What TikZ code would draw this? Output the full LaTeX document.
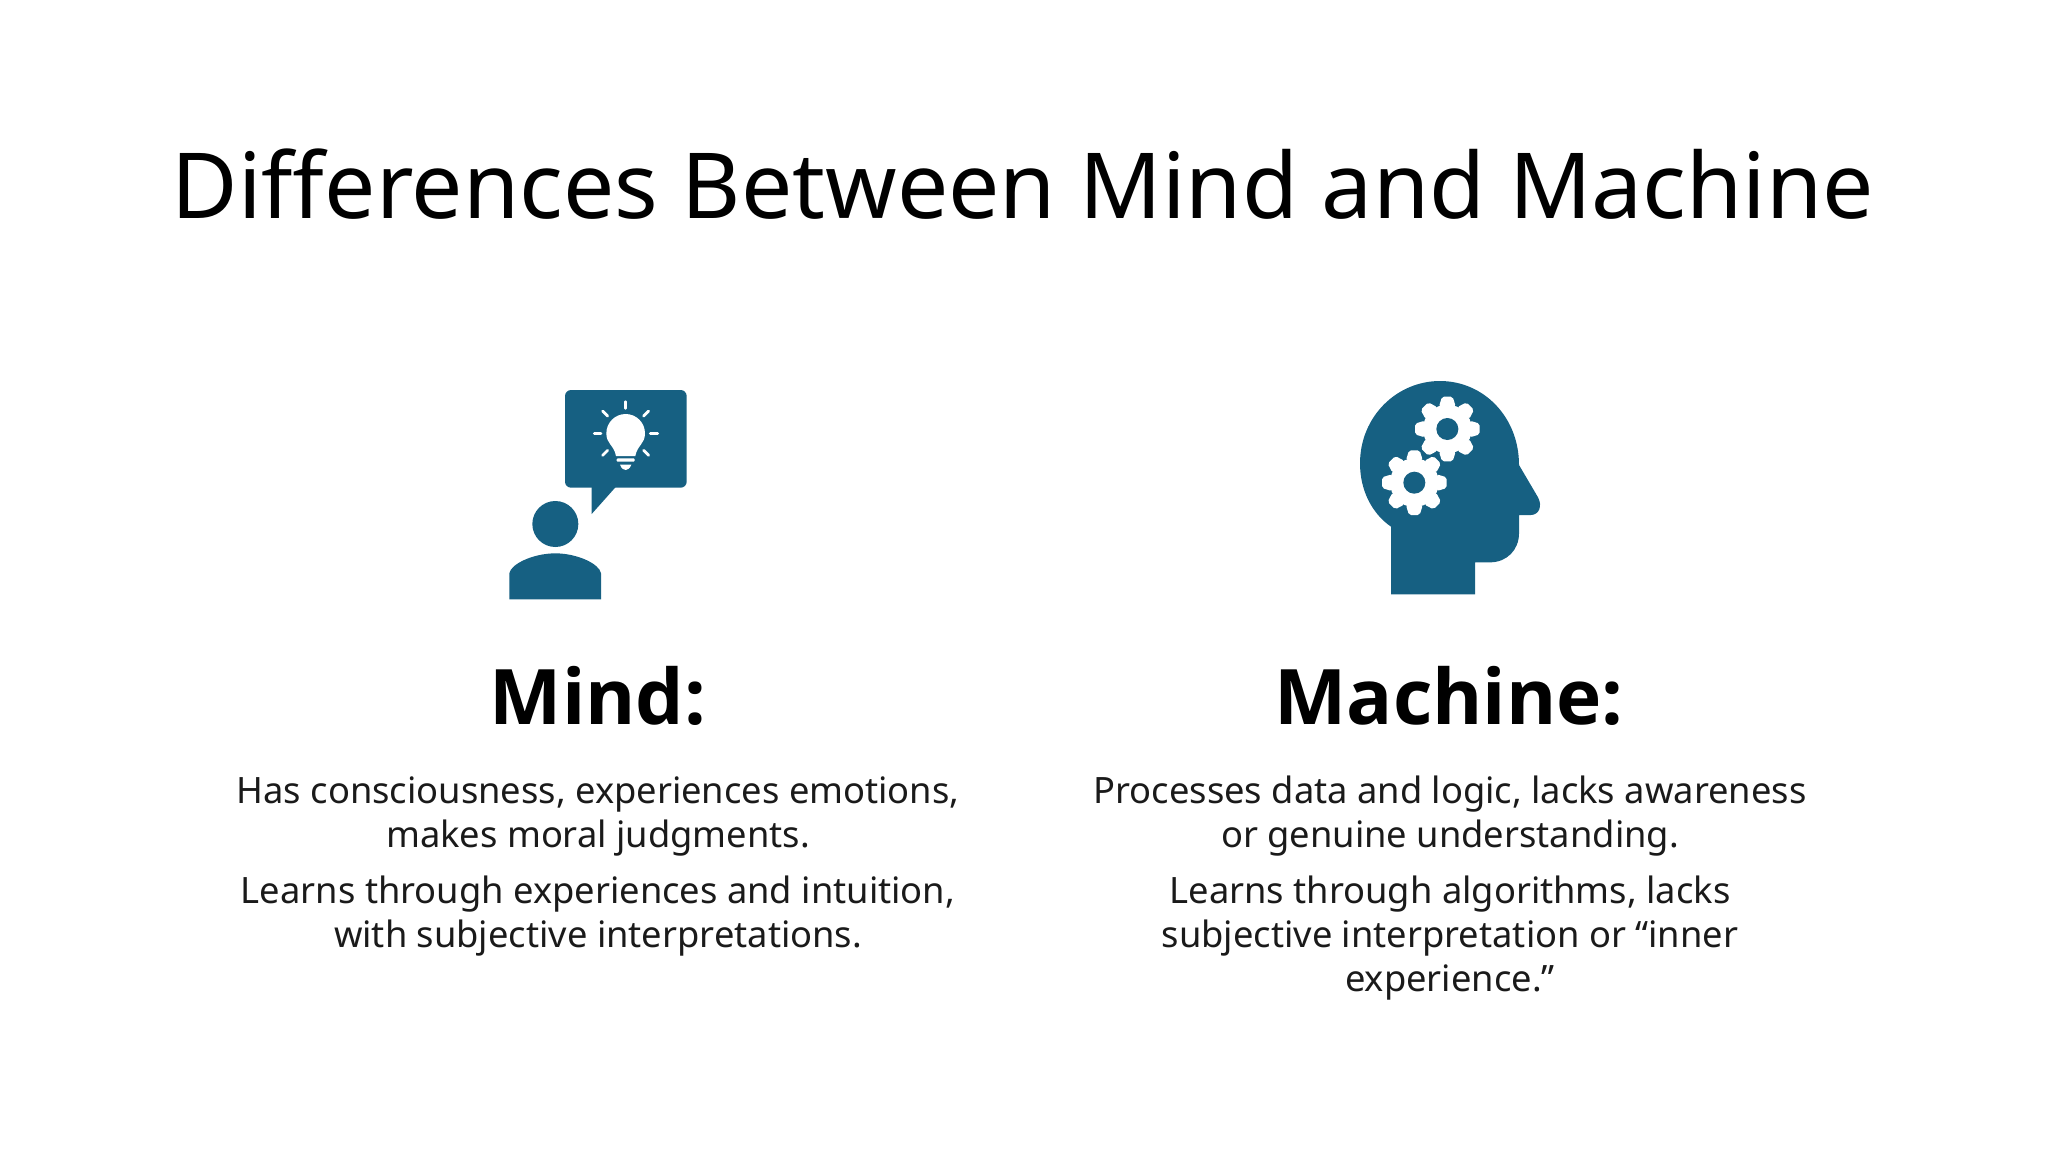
\documentclass[tikz,border=0pt]{standalone}
\usepackage{fontspec}
\setmainfont{Noto Sans}
\newfontfamily\headfont{Open Sans}
\definecolor{iconblue}{HTML}{166082}
\definecolor{bodyink}{HTML}{1A1A1A}
\tikzset{
    titletext/.style={font=\fontsize{45.55}{54}\selectfont, text=black, inner sep=0pt},
    headtext/.style={font=\headfont\fontsize{38.3}{46}\selectfont\bfseries, text=black, inner sep=0pt},
    bodytext/.style={font=\fontsize{18.15}{22}\selectfont, text=bodyink, align=center, inner sep=0pt},
    ray/.style={draw=white, line width=1.4pt, line cap=round},
    gearicon/.pic={
        \fill[white] (0,0) circle (73);
        \foreach \a in {0,45,...,315} {
            \fill[white, rotate=\a, rounded corners=1pt]
                (68,-25) -- (97,-16) -- (97,16) -- (68,25) -- cycle;
        }
        \fill[iconblue] (0,0) circle (33);
    }
}
\begin{document}
\begin{tikzpicture}[x=0.5pt,y=-0.5pt]
    \useasboundingbox (0,0) rectangle (2048,1152);

    % Title and column texts
    \node[titletext] (title) at (1023,184) {Differences Between Mind and Machine};
    \node[headtext] (mindhead) at (598,696) {Mind:};
    \node[headtext] (machinehead) at (1449,696) {Machine:};
    \node[bodytext] (mindA) at (598,816) {Has consciousness, experiences emotions,\\makes moral judgments.};
    \node[bodytext] (mindB) at (598,916) {Learns through experiences and intuition,\\with subjective interpretations.};
    \node[bodytext] (machineA) at (1450,816) {Processes data and logic, lacks awareness\\or genuine understanding.};
    \node[bodytext] (machineB) at (1450,938) {Learns through algorithms, lacks\\subjective interpretation or “inner\\experience.”};

    % Person with speech bubble
    \begin{scope}[shift={(490,370)},scale=1/3]
        \fill[iconblue, rounded corners=3pt] (225,60) rectangle (590,353);
        \fill[iconblue] (305,350) -- (305,432) -- (378,350) -- cycle;
        \fill[iconblue] (196,462) circle (69);
        \fill[iconblue] (58,688) -- (58,610) .. controls (62,582) and (130,550) .. (196,550)
            .. controls (262,550) and (329,582) .. (333,610) -- (333,688) -- cycle;
        % bulb
        \fill[white] (378,258) .. controls (372,225) and (349,222) .. (349,190)
            arc[start angle=180, end angle=360, radius=58]
            .. controls (465,222) and (442,225) .. (436,258) -- cycle;
        \fill[white, rounded corners=0.5pt] (380,265) rectangle (434,275);
        \fill[white] (390,284) -- (424,284) .. controls (420,296) and (412,300) .. (407,300)
            .. controls (402,300) and (394,296) .. (390,284) -- cycle;
        \foreach \xa/\ya/\xb/\yb in {
            407/95/407/115,
            313/190/333/190,
            481/190/503/190,
            338/123/353/138,
            476/123/461/138,
            338/256/353/241,
            476/256/461/241
        } {
            \draw[ray] (\xa,\ya) -- (\xb,\yb);
        }
    \end{scope}

    % Head with gears
    \begin{scope}[shift={(1340,370)},scale=1/3]
        \fill[iconblue] (153,673) -- (153,470)
            .. controls (95,430) and (60,360) .. (60,280)
            .. controls (60,140) and (170,33) .. (300,33)
            .. controls (430,33) and (537,140) .. (537,285)
            -- (594,382) .. controls (608,408) and (597,435) .. (572,435)
            -- (537,435) -- (537,490)
            .. controls (537,540) and (500,577) .. (450,577)
            -- (405,577) -- (405,673) -- cycle;
        \pic[transform shape] at (322,177) {gearicon};
        \pic[transform shape] at (223,338) {gearicon};
    \end{scope}
\end{tikzpicture}
\end{document}
